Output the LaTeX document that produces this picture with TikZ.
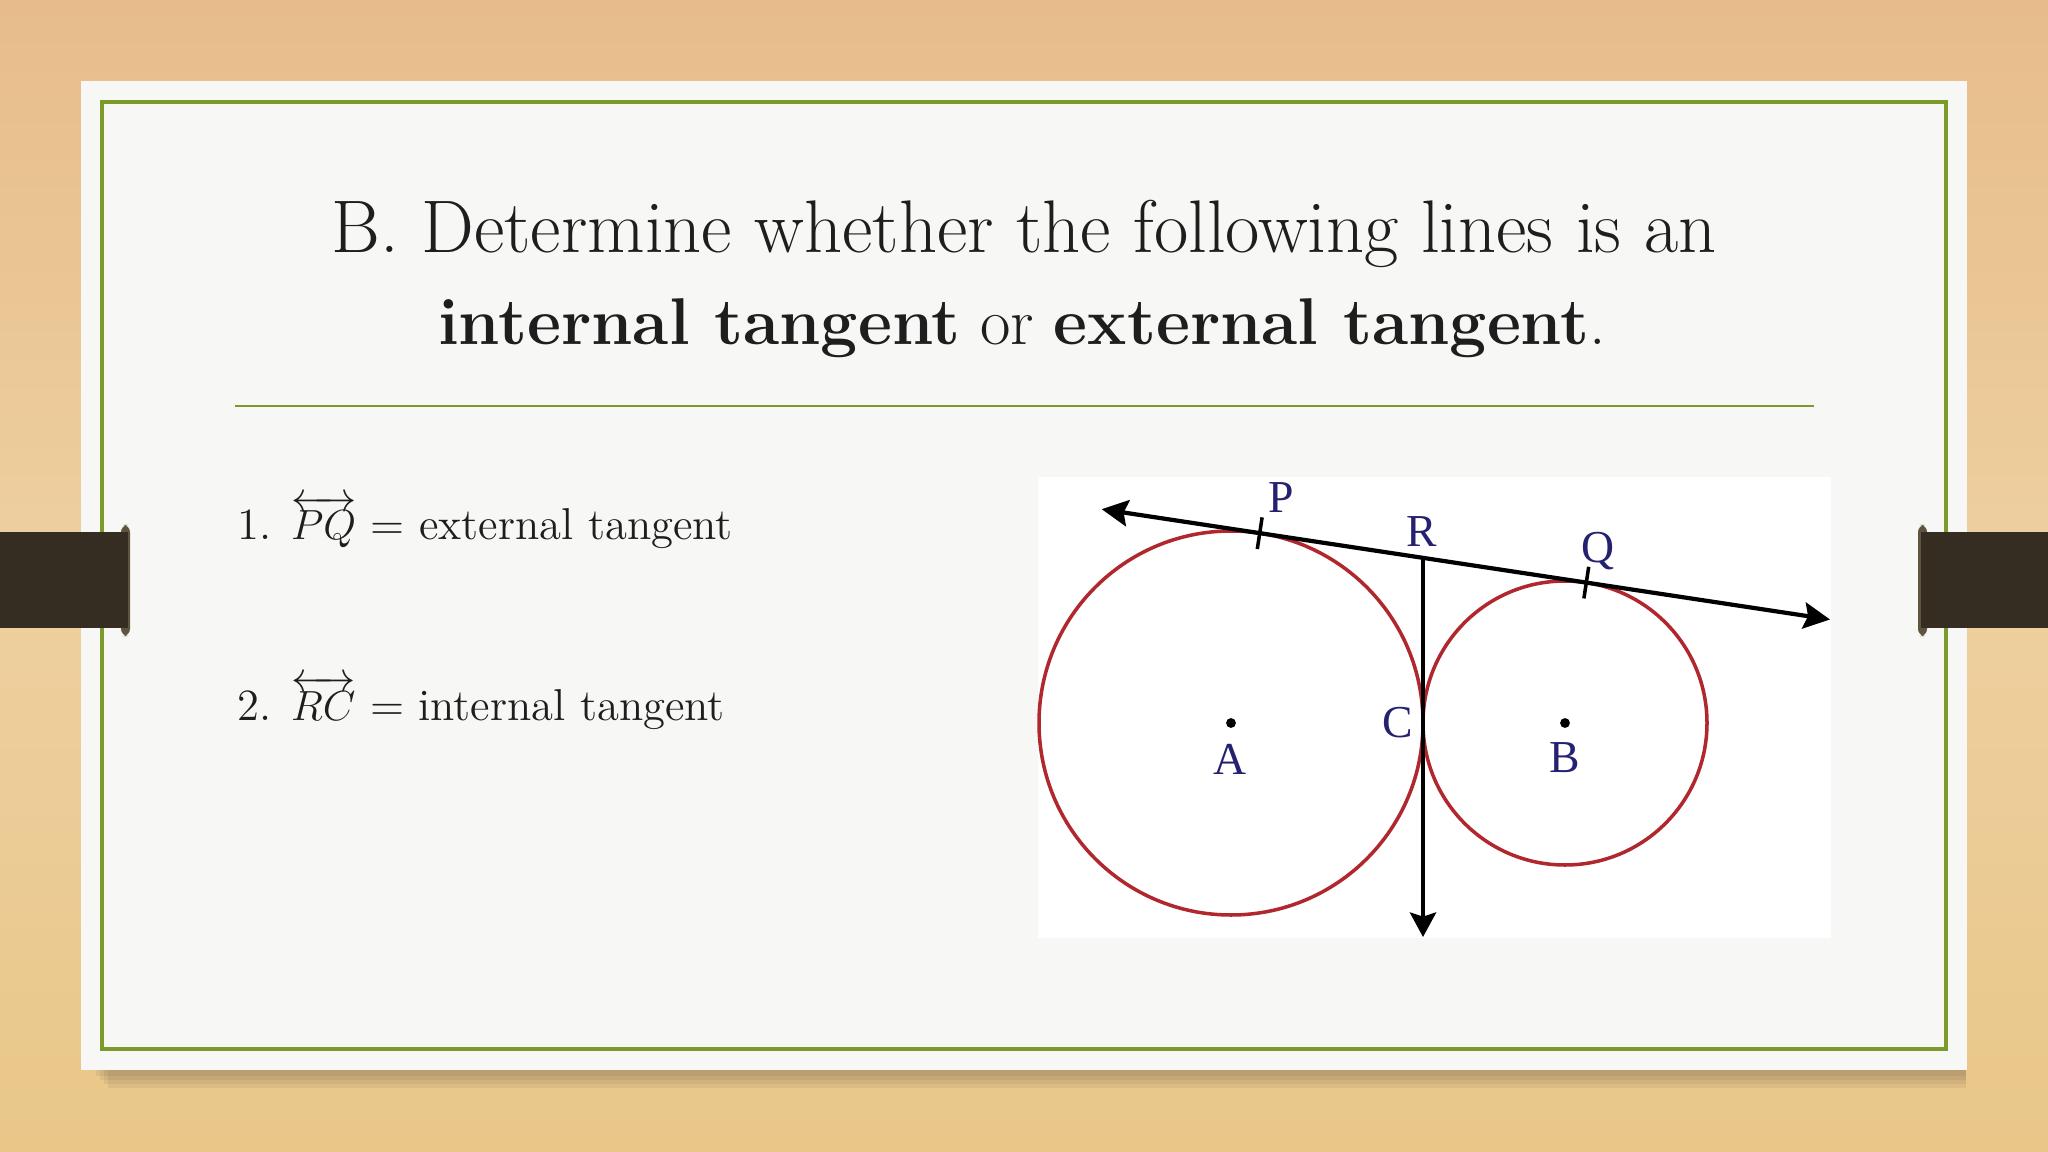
\documentclass[tikz,border=0pt]{standalone}
\usepackage{amsmath}
\usepackage{fontspec}
\newfontfamily\figfont{Liberation Serif}
\usetikzlibrary{arrows.meta,calc}

\definecolor{woodtop}{RGB}{231,188,138}
\definecolor{woodmid}{RGB}{238,208,160}
\definecolor{woodlow}{RGB}{233,199,137}
\definecolor{card}{RGB}{247,247,246}
\definecolor{frame}{RGB}{124,153,44}
\definecolor{strap}{RGB}{53,44,34}
\definecolor{strapend}{RGB}{96,84,64}
\definecolor{ink}{RGB}{30,30,30}
\definecolor{ringred}{RGB}{176,40,46}
\definecolor{labelblue}{RGB}{36,34,112}

\tikzset{
  ring/.style={draw=ringred, line width=1pt},
  tangentline/.style={line width=1.2pt,
    {Stealth[length=7.5pt,width=7.5pt,inset=1.2pt]}-{Stealth[length=7.5pt,width=7.5pt,inset=1.2pt]}},
  chordline/.style={line width=0.9pt, -{Stealth[length=7pt,width=7.5pt,inset=1.2pt]}},
  tickmark/.style={line width=1pt},
  ptlabel/.style={text=labelblue, font=\figfont\fontsize{13}{15}\selectfont, inner sep=0pt},
  centredot/.style={circle, fill=black, inner sep=0pt, minimum size=2.8pt},
  item/.style={anchor=base west, text=ink, inner sep=0pt, font=\fontsize{12.7}{16}\selectfont}
}

\begin{document}
\begin{tikzpicture}[x=0.01cm, y=-0.01cm]
\useasboundingbox (0,0) rectangle (2048,1152);

% wood, card and frame
\shade[top color=woodtop, bottom color=woodlow, middle color=woodmid] (0,0) rectangle (2048,1152);
\foreach \d in {0,4,8,12}
  \fill[strap, opacity=0.07] (96+\d,1058) rectangle (1966,1076+\d);
\fill[card] (81,81) rectangle (1967,1070);
\draw[frame, line width=1pt] (102,102) rectangle (1946,1049);
\draw[frame, line width=0.7pt] (235,406) -- (1814,406);

% straps
\fill[strapend, rounded corners=2pt] (121,525) rectangle (130,636);
\fill[strap] (0,532) rectangle (128,628);
\fill[strapend, rounded corners=2pt] (1918,525) rectangle (1927,636);
\fill[strap] (1921,532) rectangle (2048,628);

% title
\node[text=ink, anchor=base, inner sep=0pt, font=\fontsize{21.2}{26}\selectfont] (title1) at (1024,253)
  {B. Determine whether the following lines is an};
\node[text=ink, anchor=base, inner sep=0pt, font=\fontsize{18.8}{26}\selectfont] (title2) at (1022,345)
  {\textbf{internal tangent} or \textbf{external tangent}.};

% answers
\node[item] (ans1) at (237,540) {1. $\overleftrightarrow{PQ}$ = external tangent};
\node[item] (ans2) at (237,720) {2. $\overleftrightarrow{RC}$ = internal tangent};

% figure
\fill[white] (1038,477) rectangle (1831,938);
\coordinate (A) at (1231,723);
\coordinate (B) at (1565,723);
\coordinate (C) at (1423,723);
\coordinate (P) at (1259.7,533.2);
\coordinate (Q) at (1586.3,582.6);
\coordinate (R) at (1423,557.8);
\coordinate (west) at (1101.7,509.2);
\coordinate (east) at (1830,619.5);
\coordinate (south) at (1423,937);

\draw[ring] (A) circle[radius=192];
\draw[ring] (B) circle[radius=142];
\draw[tangentline] (west) -- (east);
\draw[chordline] (R) -- (south);
\draw[tickmark] ($(P)!0.16cm!90:(Q)$) -- ($(P)!0.16cm!-90:(Q)$);
\draw[tickmark] ($(Q)!0.16cm!90:(P)$) -- ($(Q)!0.16cm!-90:(P)$);
\node[centredot] (dotA) at (A) {};
\node[centredot] (dotB) at (B) {};

\node[ptlabel] (labP) at (1281,498) {P};
\node[ptlabel] (labR) at (1422,532) {R};
\node[ptlabel] (labQ) at (1598,551) {Q};
\node[ptlabel] (labC) at (1398,723) {C};
\node[ptlabel] (labA) at (1230,759) {A};
\node[ptlabel] (labB) at (1565,758) {B};

\end{tikzpicture}
\end{document}
